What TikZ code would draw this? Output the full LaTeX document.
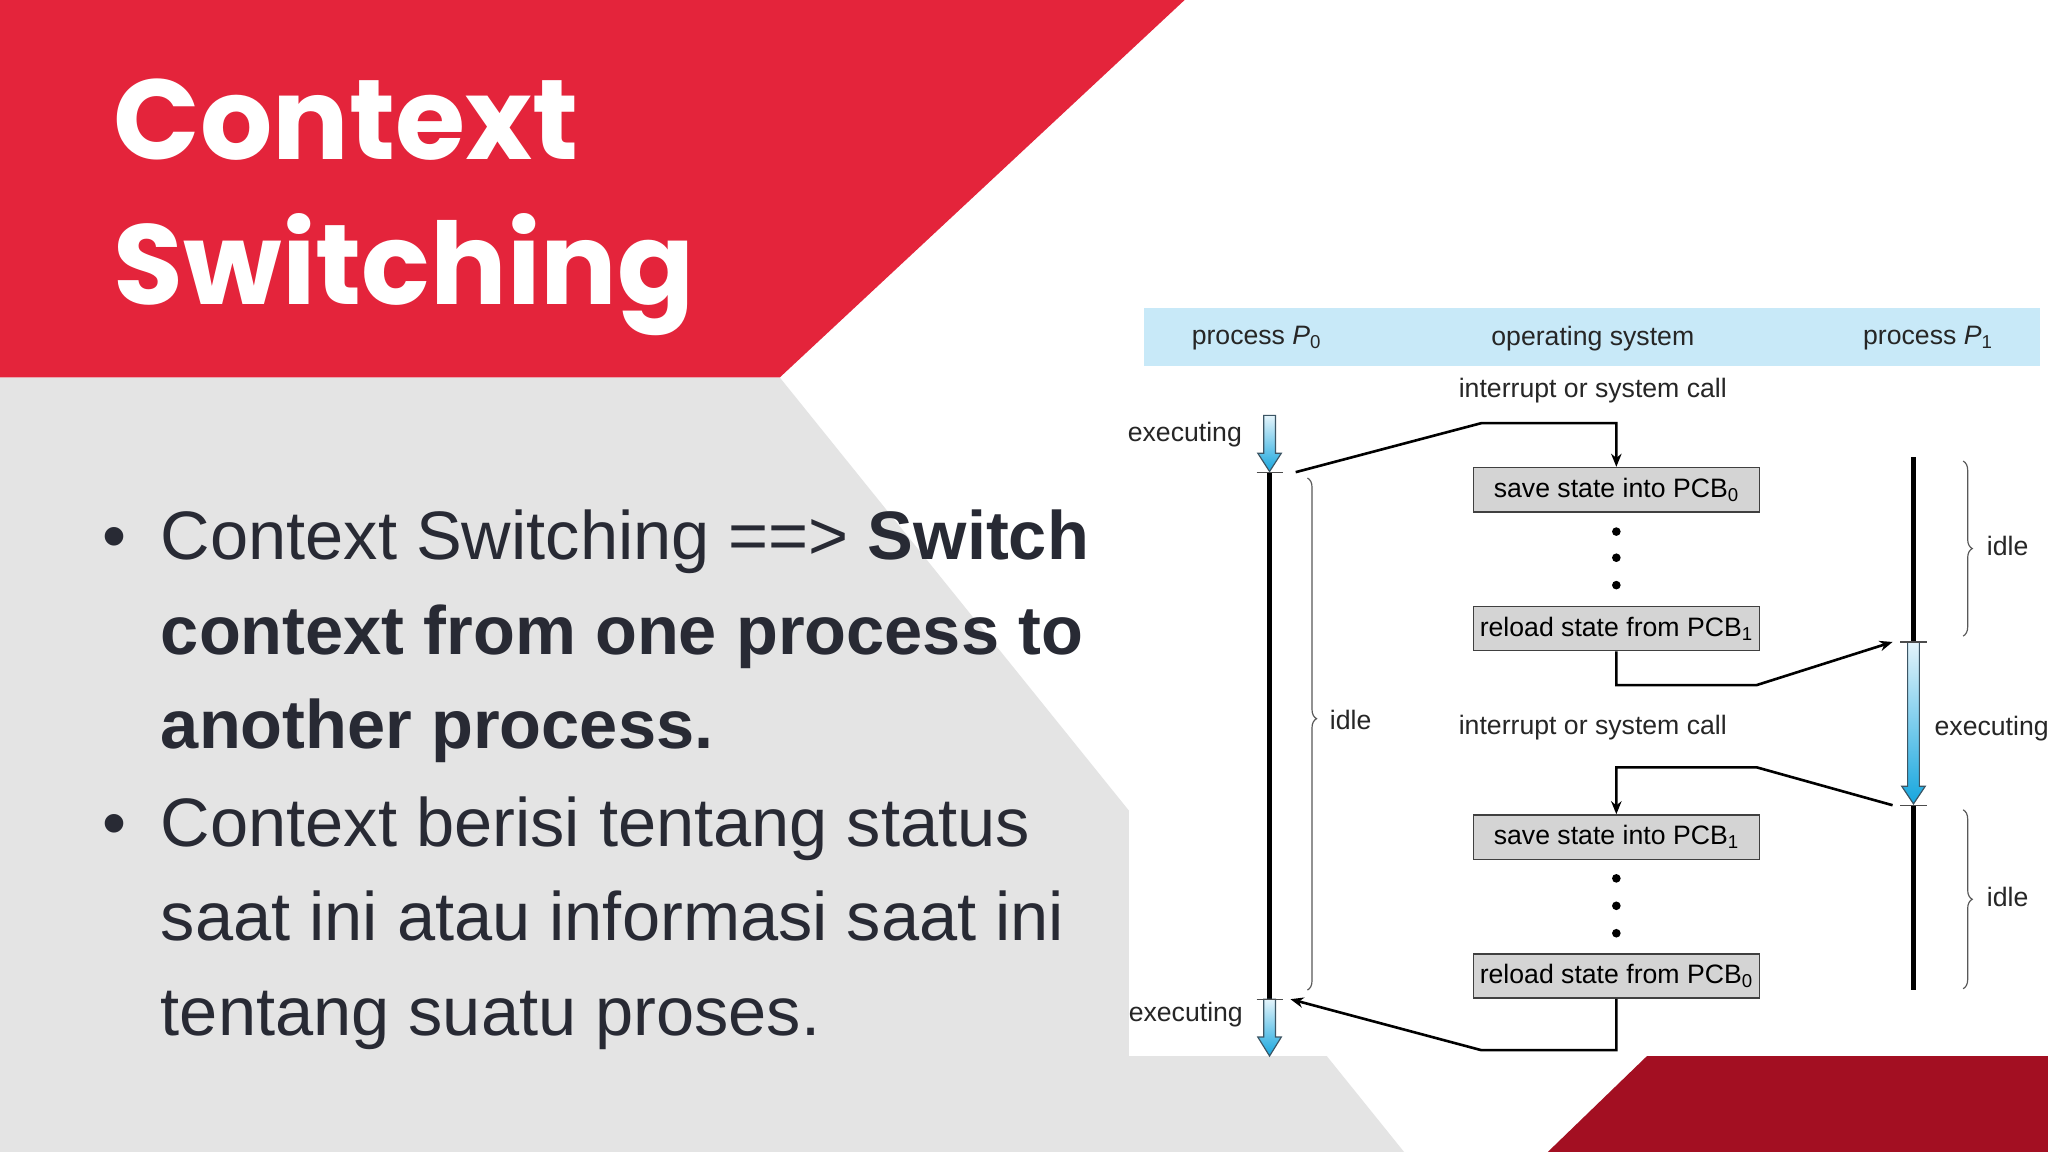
\documentclass[tikz,border=0pt]{standalone}
\usepackage{fontspec}
\setmainfont{Liberation Sans}
\newfontfamily\titlefont{Poppins}
\usetikzlibrary{positioning,calc,arrows.meta,decorations.pathreplacing}

\definecolor{slidered}{RGB}{228,36,59}
\definecolor{darkred}{RGB}{163,15,34}
\definecolor{slidegray}{RGB}{228,228,228}
\definecolor{inkdark}{RGB}{40,42,52}
\definecolor{bandblue}{RGB}{200,233,248}
\definecolor{boxgray}{RGB}{212,212,212}
\definecolor{arrowtop}{RGB}{228,244,251}
\definecolor{arrowbot}{RGB}{22,166,222}
\definecolor{arrowedge}{RGB}{60,85,100}

% blue "running" arrow: x, top, start of head, tip
\newcommand{\runarrow}[4]{%
  \draw[arrowedge, line width=0.9pt, top color=arrowtop, bottom color=arrowbot]
    (#1-4.5,#2) -- (#1+4.5,#2) -- (#1+4.5,#3) -- (#1+9,#3) -- (#1,#4)
    -- (#1-9,#3) -- (#1-4.5,#3) -- cycle;}

\begin{document}
\begin{tikzpicture}[
    x=1pt, y=-1pt,
    title/.style={anchor=base west, inner sep=0pt, text=white, font=\titlefont\bfseries\fontsize{87}{96}\selectfont},
    bodytext/.style={anchor=base west, inner sep=0pt, text=inkdark, font=\fontsize{52.5}{64}\selectfont},
    note/.style={inner sep=0pt, font=\fontsize{20.4}{24}\selectfont, text=black!85},
    pcb/.style={rectangle, draw=black!75, line width=1.2pt, fill=boxgray, minimum width=219pt, minimum height=34pt, inner sep=0pt, font=\fontsize{20.4}{24}\selectfont},
    timeline/.style={line width=3.2pt, black},
    tickbar/.style={line width=0.9pt, black!70},
    link/.style={-{Stealth[length=10pt,width=8pt]}, line width=2pt, black},
    idlebrace/.style={decorate, decoration={brace, amplitude=7pt}, line width=0.9pt, black!65}
]
\useasboundingbox (0,0) rectangle (1568,882);

% slide background
\fill[white] (0,0) rectangle (1568,882);
\fill[slidegray] (0,289) -- (597,289) -- (1075,882) -- (0,882) -- cycle;
\fill[slidered] (0,0) -- (907,0) -- (597,289) -- (0,289) -- cycle;
\fill[darkred] (1185,882) -- (1261,808.5) -- (1568,808.5) -- (1568,882) -- cycle;
\fill[white] (864,230) rectangle (1568,808.5);

% title
\node[title] (title1) at (87,122) {Context};
\node[title] (title2) at (87,233) {Switching};

% bullets
\node[bodytext] (dot1) at (78,428) {•};
\node[bodytext] (line1) at (123,428) {Context Switching ==> \textbf{Switch}};
\node[bodytext] (line2) at (123,501) {\textbf{context from one process to}};
\node[bodytext] (line3) at (123,573) {\textbf{another process.}};
\node[bodytext] (dot2) at (78,648) {•};
\node[bodytext] (line4) at (123,648) {Context berisi tentang status};
\node[bodytext] (line5) at (123,720) {saat ini atau informasi saat ini};
\node[bodytext] (line6) at (123,793) {tentang suatu proses.};

% header band
\fill[bandblue] (876,236) rectangle (1562,280);
\node[note] (headp0) at (962,259) {process \textit{P}\textsubscript{0}};
\node[note] (heados) at (1219.5,259) {operating system};
\node[note] (headp1) at (1476,259) {process \textit{P}\textsubscript{1}};

\node[note] (call1) at (1219.5,299) {interrupt or system call};
\node[note] (call2) at (1219.5,557) {interrupt or system call};
\node[note, anchor=east] (exec1) at (951,333) {executing};
\node[note, anchor=west] (exec2) at (1481,558) {executing};
\node[note, anchor=west] (exec3) at (864,777) {executing};

% operating system boxes
\node[pcb] (save0) at (1237.5,375) {save state into PCB\textsubscript{0}};
\node[pcb, below=71pt of save0] (reload1) {reload state from PCB\textsubscript{1}};
\node[pcb] (save1) at (1237.5,641) {save state into PCB\textsubscript{1}};
\node[pcb, below=71pt of save1] (reload0) {reload state from PCB\textsubscript{0}};
\foreach \yy in {407,427,448,672.5,693.5,714.5}
    \fill (1237.5,\yy) circle (3.3pt);

% time lines
\coordinate (p0top) at (972,361.5);
\coordinate (p0bot) at (972,765);
\coordinate (p1top) at (1465,491.5);
\coordinate (p1bot) at (1465,616.5);
\draw[timeline] (p0top) -- (p0bot);
\draw[timeline] (1465,350) -- (p1top);
\draw[timeline] (p1bot) -- (1465,758);
\runarrow{972}{318}{347}{361}
\runarrow{972}{765}{794}{808.5}
\runarrow{1465}{491.5}{602}{615.5}
\foreach \c in {p0top,p0bot,p1top,p1bot}
    \draw[tickbar] ($(\c)+(-10,0)$) -- ($(\c)+(10,0)$);

% switches
\draw[link] ($(p0top)+(20,0)$) -- (1134,324) -| (save0.north);
\draw[link] (reload1.south) |- (1345,524.5) -- ($(p1top)+(-16,0)$);
\draw[link] ($(p1bot)+(-16,0)$) -- (1345,587.5) -| (save1.north);
\draw[link] (reload0.south) |- (1134,804) -- ($(p0bot)+(16,0)$);

% idle braces
\draw[idlebrace, decoration={aspect=0.47}] (1001,366) -- (1001,758);
\node[note, anchor=west] (idle0) at (1018,551) {idle};
\draw[idlebrace] (1503,353) -- (1503,487);
\node[note, anchor=west] (idle1) at (1521,418) {idle};
\draw[idlebrace] (1503,620) -- (1503,757);
\node[note, anchor=west] (idle2) at (1521,687) {idle};
\end{tikzpicture}
\end{document}
